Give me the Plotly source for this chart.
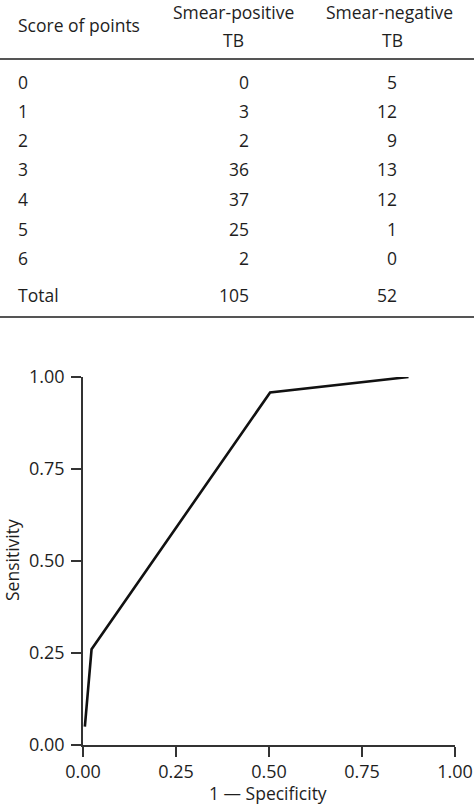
import plotly.graph_objects as go

W, H = 474, 806

# ---- data ----
scores = ["0", "1", "2", "3", "4", "5", "6"]
smear_pos = [0, 3, 2, 36, 37, 25, 2]
smear_neg = [5, 12, 9, 13, 12, 1, 0]
total_label = "Total"
total_pos = 105
total_neg = 52

roc_fpr = [0.005, 0.023, 0.503, 0.875]
roc_sens = [0.05, 0.26, 0.958, 1.0]

tick_vals = [0, 0.25, 0.5, 0.75, 1.0]
tick_text = ["0.00", "0.25", "0.50", "0.75", "1.00"]

FONT = "Open Sans"
TXT = "#1e1e1e"
FS = 17.5


def px(x):
    return x / W


def py(y):
    return 1 - y / H


fig = go.Figure()
fig.add_trace(go.Scatter(x=roc_fpr, y=roc_sens, mode="lines",
                         line=dict(color="#111111", width=2.6),
                         showlegend=False, hoverinfo="skip", cliponaxis=False))

ann = []


def text(x, y, s, anchor="left", size=FS):
    ann.append(dict(x=px(x), y=py(y), xref="paper", yref="paper", text=s,
                    showarrow=False, xanchor=anchor, yanchor="middle",
                    borderpad=0,
                    font=dict(family=FONT, size=size, color=TXT)))


# header
text(17, 25, "Score of points")
text(233, 12, "Smear-positive", "center")
text(233, 40, "TB", "center")
text(389, 12, "Smear-negative", "center")
text(392, 40, "TB", "center")

row_y = [82, 111, 140, 169, 199, 229, 258]
for s, p, n, y in zip(scores, smear_pos, smear_neg, row_y):
    text(17, y, s)
    text(250, y, str(p), "right")
    text(398, y, str(n), "right")
text(17, 295, total_label)
text(250, 295, str(total_pos), "right")
text(398, 295, str(total_neg), "right")

# axis titles
ann.append(dict(x=px(12), y=py(560), xref="paper", yref="paper", text="Sensitivity",
                showarrow=False, textangle=-90, xanchor="center", yanchor="middle",
                borderpad=0, font=dict(family=FONT, size=17.5, color=TXT)))
text(268, 793, "1 \u2014 Specificity", "center", 17.5)

shapes = [
    dict(type="line", xref="paper", yref="paper", x0=0, x1=1, y0=py(59), y1=py(59),
         line=dict(color="#555555", width=2)),
    dict(type="line", xref="paper", yref="paper", x0=0, x1=1, y0=py(317), y1=py(317),
         line=dict(color="#555555", width=2)),
]

axis_common = dict(showgrid=False, zeroline=False, showline=True, linecolor="#333333",
                   linewidth=1.5, ticks="outside", ticklen=10, tickwidth=1.5,
                   tickcolor="#333333", tickvals=tick_vals, ticktext=tick_text,
                   tickfont=dict(family=FONT, size=18, color=TXT), fixedrange=True,
                   automargin=False)

fig.update_layout(
    width=W, height=H, margin=dict(l=0, r=0, t=0, b=0, pad=0, autoexpand=False),
    paper_bgcolor="white", plot_bgcolor="white",
    xaxis=dict(domain=[px(83), px(455)], range=[0, 1], anchor="y", ticklabelstandoff=0,
               **axis_common),
    yaxis=dict(domain=[py(745), py(377)], range=[0, 1], anchor="x", ticklabelstandoff=3,
               **axis_common),
    annotations=ann, shapes=shapes,
)

fig.write_html("out.html", config={"displayModeBar": False},
               post_script="document.body.style.margin='0px';"
                           "document.body.style.overflow='hidden';")
